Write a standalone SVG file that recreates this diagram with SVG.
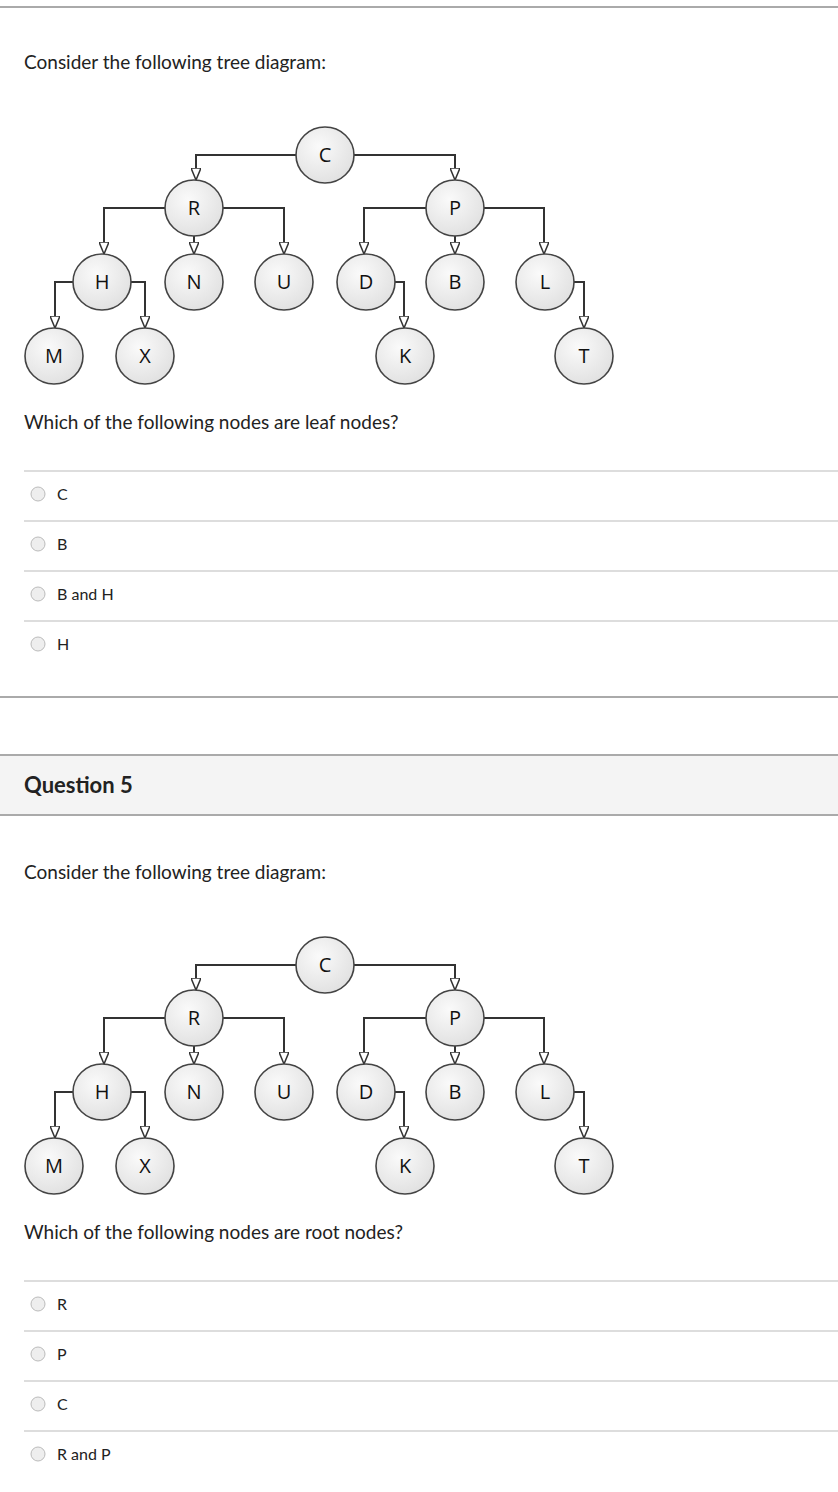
<svg xmlns="http://www.w3.org/2000/svg" width="838" height="1492" viewBox="0 0 838 1492">
<defs>
<marker id="ah" viewBox="0 0 12 10" refX="12" refY="5" markerWidth="12" markerHeight="10" markerUnits="userSpaceOnUse" orient="auto">
<path d="M0,0 L12,5 L0,10 Z" fill="#fff" stroke="#333" stroke-width="1.5"/>
</marker>
<radialGradient id="ng" cx="0.4" cy="0.35" r="0.7">
<stop offset="0" stop-color="#fafafa"/><stop offset="1" stop-color="#e0e0e0"/>
</radialGradient>
</defs>
<style>
.t{font-family:Lato,"Open Sans","Liberation Sans",sans-serif;fill:#222}
.q{font-size:19px}
.o{font-size:16px}
.h{font-size:22px;font-weight:bold}
.n ellipse{fill:url(#ng);stroke:#444;stroke-width:1.6}
.n text{font-family:"Open Sans","Liberation Sans",sans-serif;font-size:20px;fill:#111;text-anchor:middle}
.e polyline{fill:none;stroke:#333;stroke-width:2;marker-end:url(#ah)}
.sep{stroke:#ddd;stroke-width:2}
.rd{fill:#eee;stroke:#bbb;stroke-width:1}
</style>
<rect width="838" height="1492" fill="#fff"/>
<line x1="0" y1="7" x2="838" y2="7" stroke="#aaa" stroke-width="2"/>
<text class="t q" x="24" y="69">Consider the following tree diagram:</text>

<g id="edges1" class="e">
<polyline points="296,155 196,155 196,180"/>
<polyline points="354,155 455,155 455,180"/>
<polyline points="165,208 104,208 104,254"/>
<polyline points="194,236 194,254"/>
<polyline points="223,208 284,208 284,254"/>
<polyline points="426,208 364,208 364,254"/>
<polyline points="455,236 455,254"/>
<polyline points="484,208 544,208 544,254"/>
<polyline points="73,282 55,282 55,328"/>
<polyline points="131,282 145,282 145,328"/>
<polyline points="395,282 404,282 404,328"/>
<polyline points="574,282 584,282 584,328"/>
</g>
<g id="C1" class="n"><ellipse cx="325" cy="155" rx="29" ry="28"/><text x="325" y="162">C</text></g>
<g id="R1" class="n"><ellipse cx="194" cy="208" rx="29" ry="28"/><text x="194" y="215">R</text></g>
<g id="P1" class="n"><ellipse cx="455" cy="208" rx="29" ry="28"/><text x="455" y="215">P</text></g>
<g id="H1" class="n"><ellipse cx="102" cy="282" rx="29" ry="28"/><text x="102" y="289">H</text></g>
<g id="N1" class="n"><ellipse cx="194" cy="282" rx="29" ry="28"/><text x="194" y="289">N</text></g>
<g id="U1" class="n"><ellipse cx="284" cy="282" rx="29" ry="28"/><text x="284" y="289">U</text></g>
<g id="D1" class="n"><ellipse cx="366" cy="282" rx="29" ry="28"/><text x="366" y="289">D</text></g>
<g id="B1" class="n"><ellipse cx="455" cy="282" rx="29" ry="28"/><text x="455" y="289">B</text></g>
<g id="L1" class="n"><ellipse cx="545" cy="282" rx="29" ry="28"/><text x="545" y="289">L</text></g>
<g id="M1" class="n"><ellipse cx="54" cy="356" rx="29" ry="28"/><text x="54" y="363">M</text></g>
<g id="X1" class="n"><ellipse cx="145" cy="356" rx="29" ry="28"/><text x="145" y="363">X</text></g>
<g id="K1" class="n"><ellipse cx="405" cy="356" rx="29" ry="28"/><text x="405" y="363">K</text></g>
<g id="T1" class="n"><ellipse cx="584" cy="356" rx="29" ry="28"/><text x="584" y="363">T</text></g>

<text class="t q" x="24" y="429">Which of the following nodes are leaf nodes?</text>
<line class="sep" x1="24" y1="471" x2="838" y2="471"/>
<line class="sep" x1="24" y1="521" x2="838" y2="521"/>
<line class="sep" x1="24" y1="571" x2="838" y2="571"/>
<line class="sep" x1="24" y1="621" x2="838" y2="621"/>
<circle class="rd" cx="38" cy="494" r="7"/><text class="t o" x="57" y="500">C</text>
<circle class="rd" cx="38" cy="544" r="7"/><text class="t o" x="57" y="550">B</text>
<circle class="rd" cx="38" cy="594" r="7"/><text class="t o" x="57" y="600">B and H</text>
<circle class="rd" cx="38" cy="644" r="7"/><text class="t o" x="57" y="650">H</text>
<line x1="0" y1="697" x2="838" y2="697" stroke="#aaa" stroke-width="2"/>

<rect x="0" y="755" width="838" height="60" fill="#f4f4f4"/>
<line x1="0" y1="755" x2="838" y2="755" stroke="#aaa" stroke-width="2"/>
<line x1="0" y1="815" x2="838" y2="815" stroke="#aaa" stroke-width="2"/>
<text class="t h" x="24" y="793">Question 5</text>

<text class="t q" x="24" y="879">Consider the following tree diagram:</text>
<g id="edges2" class="e" transform="translate(0,810)">
<polyline points="296,155 196,155 196,180"/>
<polyline points="354,155 455,155 455,180"/>
<polyline points="165,208 104,208 104,254"/>
<polyline points="194,236 194,254"/>
<polyline points="223,208 284,208 284,254"/>
<polyline points="426,208 364,208 364,254"/>
<polyline points="455,236 455,254"/>
<polyline points="484,208 544,208 544,254"/>
<polyline points="73,282 55,282 55,328"/>
<polyline points="131,282 145,282 145,328"/>
<polyline points="395,282 404,282 404,328"/>
<polyline points="574,282 584,282 584,328"/>
</g>
<g transform="translate(0,810)">
<g id="C2" class="n"><ellipse cx="325" cy="155" rx="29" ry="28"/><text x="325" y="162">C</text></g>
<g id="R2" class="n"><ellipse cx="194" cy="208" rx="29" ry="28"/><text x="194" y="215">R</text></g>
<g id="P2" class="n"><ellipse cx="455" cy="208" rx="29" ry="28"/><text x="455" y="215">P</text></g>
<g id="H2" class="n"><ellipse cx="102" cy="282" rx="29" ry="28"/><text x="102" y="289">H</text></g>
<g id="N2" class="n"><ellipse cx="194" cy="282" rx="29" ry="28"/><text x="194" y="289">N</text></g>
<g id="U2" class="n"><ellipse cx="284" cy="282" rx="29" ry="28"/><text x="284" y="289">U</text></g>
<g id="D2" class="n"><ellipse cx="366" cy="282" rx="29" ry="28"/><text x="366" y="289">D</text></g>
<g id="B2" class="n"><ellipse cx="455" cy="282" rx="29" ry="28"/><text x="455" y="289">B</text></g>
<g id="L2" class="n"><ellipse cx="545" cy="282" rx="29" ry="28"/><text x="545" y="289">L</text></g>
<g id="M2" class="n"><ellipse cx="54" cy="356" rx="29" ry="28"/><text x="54" y="363">M</text></g>
<g id="X2" class="n"><ellipse cx="145" cy="356" rx="29" ry="28"/><text x="145" y="363">X</text></g>
<g id="K2" class="n"><ellipse cx="405" cy="356" rx="29" ry="28"/><text x="405" y="363">K</text></g>
<g id="T2" class="n"><ellipse cx="584" cy="356" rx="29" ry="28"/><text x="584" y="363">T</text></g>
</g>

<text class="t q" x="24" y="1239">Which of the following nodes are root nodes?</text>
<line class="sep" x1="24" y1="1281" x2="838" y2="1281"/>
<line class="sep" x1="24" y1="1331" x2="838" y2="1331"/>
<line class="sep" x1="24" y1="1381" x2="838" y2="1381"/>
<line class="sep" x1="24" y1="1431" x2="838" y2="1431"/>
<circle class="rd" cx="38" cy="1304" r="7"/><text class="t o" x="57" y="1310">R</text>
<circle class="rd" cx="38" cy="1354" r="7"/><text class="t o" x="57" y="1360">P</text>
<circle class="rd" cx="38" cy="1404" r="7"/><text class="t o" x="57" y="1410">C</text>
<circle class="rd" cx="38" cy="1454" r="7"/><text class="t o" x="57" y="1460">R and P</text>
</svg>
